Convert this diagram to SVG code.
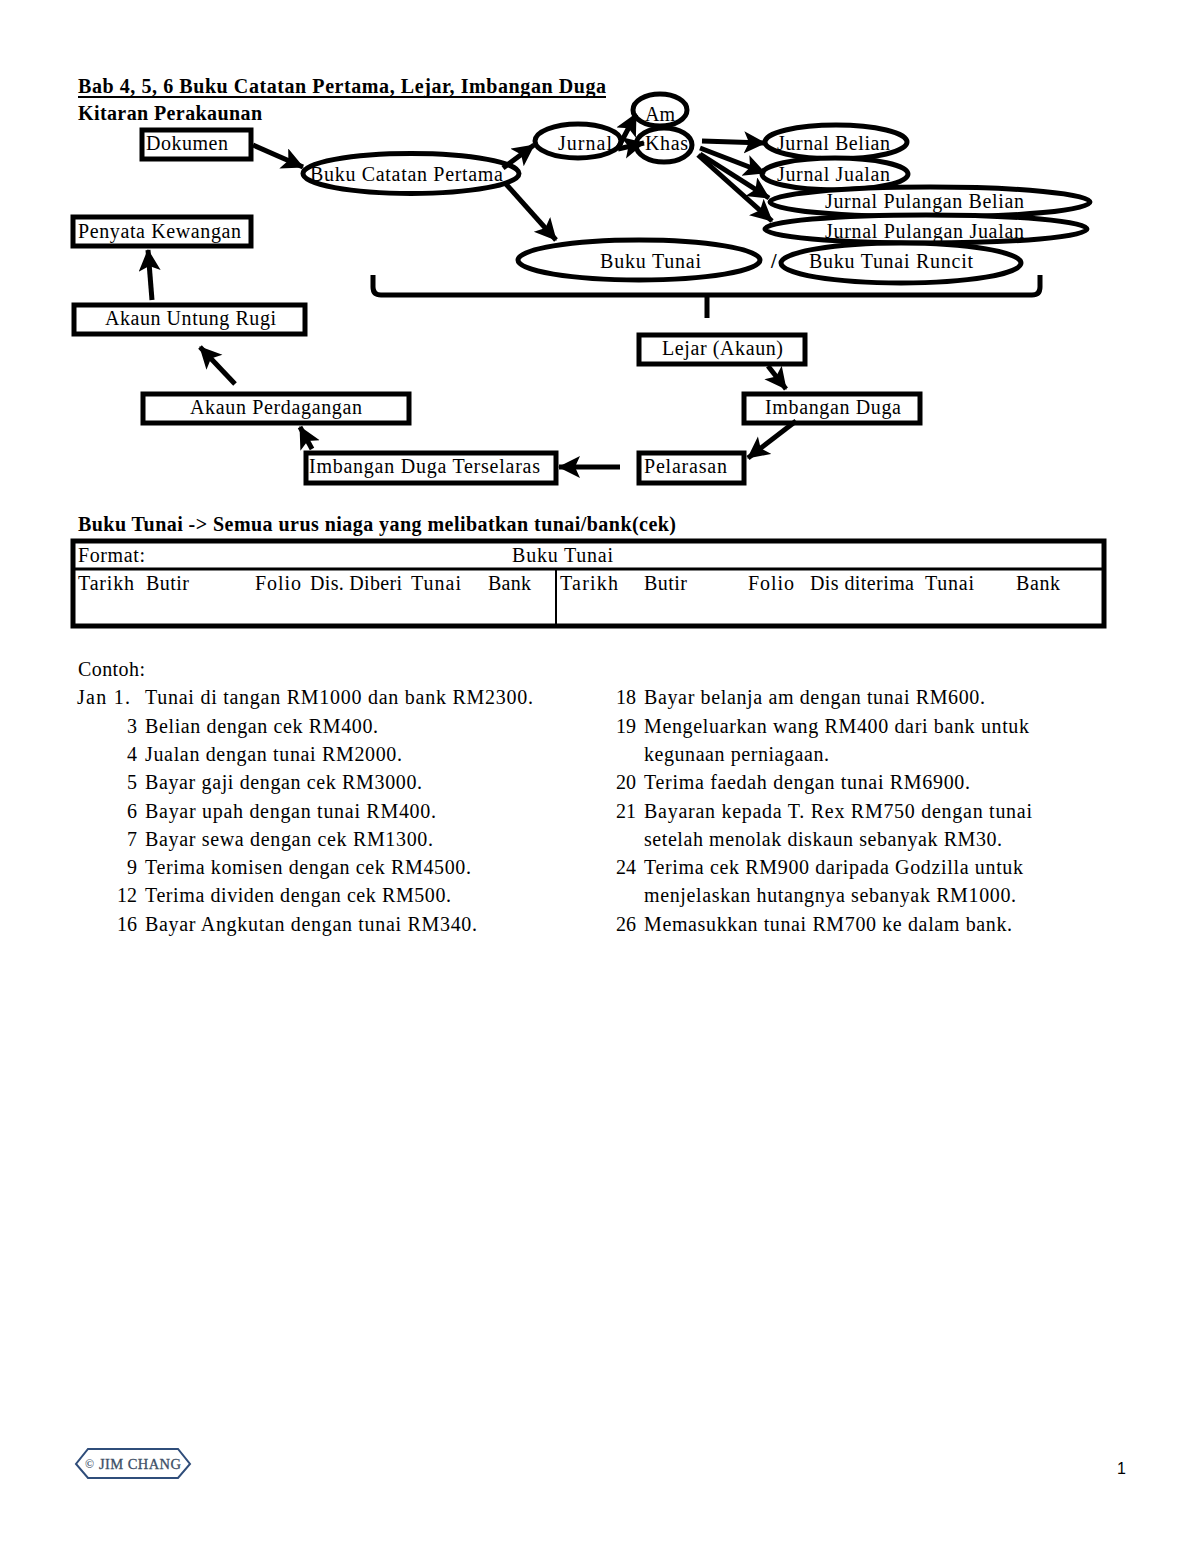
<svg xmlns="http://www.w3.org/2000/svg" width="1200" height="1553" viewBox="0 0 1200 1553">
<style>
text{font-family:"Liberation Serif","Times New Roman",serif;font-size:20px;fill:#000}
.b{font-weight:bold}
.box{fill:#fff;stroke:#000;stroke-width:5}
.ell{fill:#fff;stroke:#000;stroke-width:5}
.c{fill:none;stroke:#000;stroke-width:5}
.r{text-anchor:end}
</style>
<defs>
<marker id="a" markerUnits="userSpaceOnUse" markerWidth="24" markerHeight="24" refX="21" refY="11" orient="auto"><path d="M0 0L22 11L0 22L5 11Z" fill="#000"/></marker>
</defs>
<rect width="1200" height="1553" fill="#fff"/>
<g id="titles">
<text class="b" x="78" y="93" textLength="528">Bab 4, 5, 6 Buku Catatan Pertama, Lejar, Imbangan Duga</text>
<path d="M78 97H606" stroke="#000" stroke-width="2"/>
<text class="b" x="78" y="120" textLength="184">Kitaran Perakaunan</text>
</g>
<g id="dokumen"><rect class="box" x="142" y="130" width="109" height="29"/><text x="146" y="150" textLength="82">Dokumen</text></g>
<g id="penyata"><rect class="box" x="73" y="217" width="178" height="29"/><text x="78" y="238" textLength="163">Penyata Kewangan</text></g>
<g id="buku-catatan"><ellipse class="ell" cx="411" cy="173.500" rx="108" ry="20"/></g>
<g id="jurnal"><ellipse class="ell" cx="578" cy="141" rx="43" ry="17"/></g>
<g id="am"><ellipse class="ell" cx="660" cy="110" rx="27" ry="16"/></g>
<g id="khas"><ellipse class="ell" cx="664" cy="145" rx="28" ry="17"/></g>
<g id="jurnal-belian"><ellipse class="ell" cx="836" cy="142" rx="71" ry="17"/></g>
<g id="jurnal-jualan"><ellipse class="ell" cx="835" cy="174" rx="73" ry="16"/></g>
<g id="jurnal-pb"><ellipse class="ell" cx="930" cy="202" rx="160" ry="15"/></g>
<g id="jurnal-pj"><ellipse class="ell" cx="926" cy="229" rx="161" ry="14"/></g>
<g id="buku-tunai"><ellipse class="ell" cx="639" cy="260" rx="121" ry="20"/></g>
<g id="buku-tunai-runcit"><ellipse class="ell" cx="901" cy="263" rx="120" ry="20"/></g>
<g id="akaun-untung"><rect class="box" x="74" y="305" width="231" height="29"/><text x="105" y="325" textLength="171">Akaun Untung Rugi</text></g>
<g id="lejar"><rect class="box" x="639" y="335" width="166" height="29"/><text x="662" y="355" textLength="121">Lejar (Akaun)</text></g>
<g id="akaun-perdagangan"><rect class="box" x="143" y="394" width="266" height="29"/><text x="190" y="414" textLength="172">Akaun Perdagangan</text></g>
<g id="imbangan-duga"><rect class="box" x="744" y="394" width="176" height="29"/><text x="765" y="414" textLength="136">Imbangan Duga</text></g>
<g id="imbangan-terselaras"><rect class="box" x="306" y="453" width="250" height="30"/><text x="309" y="473" textLength="231">Imbangan Duga Terselaras</text></g>
<g id="pelarasan"><rect class="box" x="639" y="453" width="105" height="30"/><text x="644" y="473" textLength="83">Pelarasan</text></g>
<g id="connectors">
<path class="c" marker-end="url(#a)" d="M253 145L303 167"/>
<path class="c" marker-end="url(#a)" d="M503 168L534 145"/>
<path class="c" marker-end="url(#a)" d="M505 183L556 240"/>
<path class="c" marker-end="url(#a)" d="M618 148L636 114"/>
<path class="c" marker-end="url(#a)" d="M618 149L644 143"/>
<path class="c" marker-end="url(#a)" d="M702 141L765 143"/>
<path class="c" marker-end="url(#a)" d="M700 148L765 173"/>
<path class="c" marker-end="url(#a)" d="M700 154L769 198"/>
<path class="c" marker-end="url(#a)" d="M698 155L772 221"/>
<path class="c" d="M373 275V287Q373 295 381 295H1032Q1040 295 1040 287V275M707 295V318"/>
<path class="c" marker-end="url(#a)" d="M152 300L148 250"/>
<path class="c" marker-end="url(#a)" d="M235 384L200 347"/>
<path class="c" marker-end="url(#a)" d="M768 366L786 389"/>
<path class="c" marker-end="url(#a)" d="M796 421L748 458"/>
<path class="c" marker-end="url(#a)" d="M620 467L559 467"/>
<path class="c" marker-end="url(#a)" d="M312 449L300 427"/>
</g>
<g id="ellipse-labels">
<text x="310" y="181" textLength="193">Buku Catatan Pertama</text>
<text x="558" y="150" textLength="54">Jurnal</text>
<text x="645" y="121" textLength="30">Am</text>
<text x="645" y="150" textLength="43">Khas</text>
<text x="777" y="150" textLength="113">Jurnal Belian</text>
<text x="777" y="181" textLength="113">Jurnal Jualan</text>
<text x="825" y="208" textLength="199">Jurnal Pulangan Belian</text>
<text x="825" y="238" textLength="199">Jurnal Pulangan Jualan</text>
<text x="600" y="268" textLength="101">Buku Tunai</text>
<text x="771" y="268" class="b">/</text>
<text x="809" y="268" textLength="164">Buku Tunai Runcit</text>
</g>
<g id="buku-tunai-table">
<text class="b" x="78" y="531" textLength="598">Buku Tunai -&gt; Semua urus niaga yang melibatkan tunai/bank(cek)</text>
<rect x="73" y="541" width="1031" height="85" fill="none" stroke="#000" stroke-width="5"/>
<path d="M73 569H1104" stroke="#000" stroke-width="3"/>
<path d="M556 569V626" stroke="#000" stroke-width="2"/>
<text x="78" y="562" textLength="67">Format:</text>
<text x="512" y="562" textLength="101">Buku Tunai</text>
<text x="78" y="590" textLength="56">Tarikh</text><text x="146" y="590" textLength="43">Butir</text><text x="255" y="590" textLength="46">Folio</text><text x="310" y="590" textLength="92">Dis. Diberi</text><text x="411" y="590" textLength="50">Tunai</text><text x="488" y="590" textLength="43">Bank</text>
<text x="560" y="590" textLength="58">Tarikh</text><text x="644" y="590" textLength="43">Butir</text><text x="748" y="590" textLength="46">Folio</text><text x="810" y="590" textLength="104">Dis diterima</text><text x="925" y="590" textLength="49">Tunai</text><text x="1016" y="590" textLength="44">Bank</text>
</g>
<g id="contoh">
<text x="78" y="676" textLength="67">Contoh:</text>
<text x="77" y="704" textLength="53">Jan 1.</text><text x="145" y="704" textLength="388">Tunai di tangan RM1000 dan bank RM2300.</text>
<text class="r" x="137" y="733">3</text><text x="145" y="733" textLength="233">Belian dengan cek RM400.</text>
<text class="r" x="137" y="761">4</text><text x="145" y="761" textLength="257">Jualan dengan tunai RM2000.</text>
<text class="r" x="137" y="789">5</text><text x="145" y="789" textLength="277">Bayar gaji dengan cek RM3000.</text>
<text class="r" x="137" y="818">6</text><text x="145" y="818" textLength="291">Bayar upah dengan tunai RM400.</text>
<text class="r" x="137" y="846">7</text><text x="145" y="846" textLength="288">Bayar sewa dengan cek RM1300.</text>
<text class="r" x="137" y="874">9</text><text x="145" y="874" textLength="326">Terima komisen dengan cek RM4500.</text>
<text class="r" x="137" y="902">12</text><text x="145" y="902" textLength="306">Terima dividen dengan cek RM500.</text>
<text class="r" x="137" y="931">16</text><text x="145" y="931" textLength="332">Bayar Angkutan dengan tunai RM340.</text>
<text class="r" x="636" y="704">18</text><text x="644" y="704" textLength="341">Bayar belanja am dengan tunai RM600.</text>
<text class="r" x="636" y="733">19</text><text x="644" y="733" textLength="385">Mengeluarkan wang RM400 dari bank untuk</text>
<text x="644" y="761" textLength="185">kegunaan perniagaan.</text>
<text class="r" x="636" y="789">20</text><text x="644" y="789" textLength="326">Terima faedah dengan tunai RM6900.</text>
<text class="r" x="636" y="818">21</text><text x="644" y="818" textLength="388">Bayaran kepada T. Rex RM750 dengan tunai</text>
<text x="644" y="846" textLength="358">setelah menolak diskaun sebanyak RM30.</text>
<text class="r" x="636" y="874">24</text><text x="644" y="874" textLength="379">Terima cek RM900 daripada Godzilla untuk</text>
<text x="644" y="902" textLength="372">menjelaskan hutangnya sebanyak RM1000.</text>
<text class="r" x="636" y="931">26</text><text x="644" y="931" textLength="368">Memasukkan tunai RM700 ke dalam bank.</text>
</g>
<g id="logo">
<path d="M88 1449H178L190 1464L178 1478H88L76 1464Z" fill="#fff" stroke="#2f4d7a" stroke-width="2"/>
<text x="85" y="1468" style="font-size:12px;font-weight:bold;fill:#4a5a70">©</text>
<text x="99" y="1469" textLength="82" style="font-size:14.500px;fill:#3d4f66;stroke:#3d4f66;stroke-width:.3">JIM CHANG</text>
</g>
<text x="1117" y="1474" style="font-family:'Liberation Sans',sans-serif;font-size:16px">1</text>
</svg>
